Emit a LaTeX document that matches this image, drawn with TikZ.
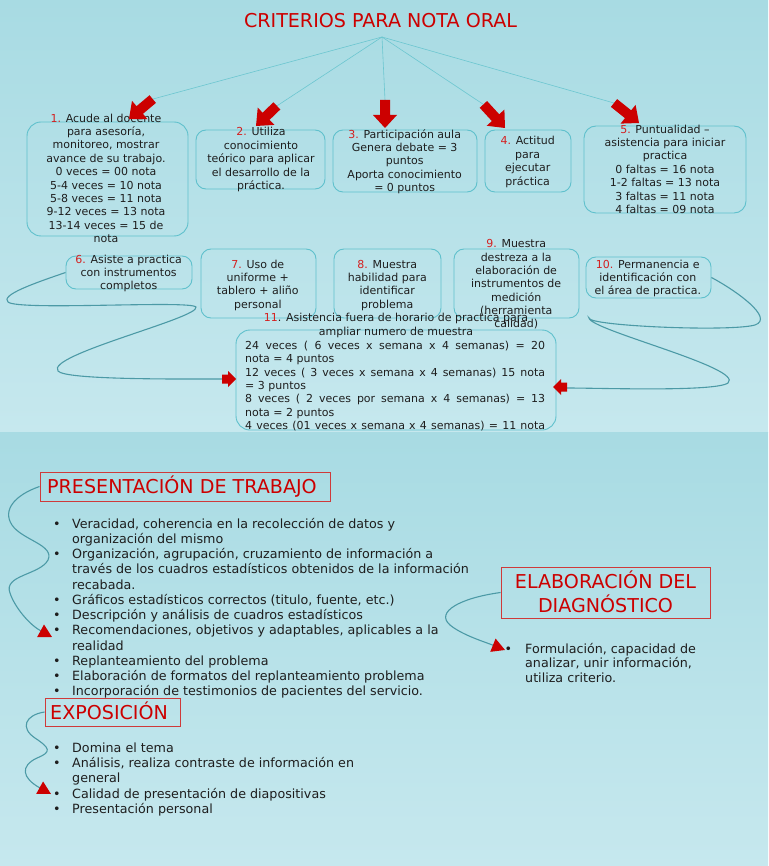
\documentclass[tikz,border=0pt]{standalone}
\usepackage{fontspec}
\setmainfont{DejaVu Sans}
\usetikzlibrary{arrows.meta}
\definecolor{bgtop}{HTML}{A8DBE3}
\definecolor{bgbot}{HTML}{C6E8EE}
\definecolor{boxc}{HTML}{5FC0CC}
\definecolor{curvec}{HTML}{4C9AA6}
\definecolor{hubc}{HTML}{6CC6D0}
\definecolor{arrowred}{HTML}{CC0000}
\definecolor{numred}{HTML}{D42020}
\definecolor{titred}{HTML}{CC0000}
\definecolor{textc}{HTML}{1E1E1E}
\definecolor{redbox}{HTML}{CF3A3A}
\newcommand{\ctext}[1]{\begin{tabular}[t]{@{}c@{}}#1\end{tabular}}
\newcommand{\ltext}[1]{\begin{tabular}[t]{@{}l@{}}#1\end{tabular}}
\newcommand{\nr}[1]{\textcolor{numred}{#1}}
\tikzset{
  pics/barrow/.style n args={4}{code={\fill[arrowred] (0,0) -- (-#2,#3) -- (-#2,#4) -- (-#1,#4) -- (-#1,-#4) -- (-#2,-#4) -- (-#2,-#3) -- cycle;}},
  cbox/.style={draw=boxc,line width=0.9pt,rounded corners=10pt,inner sep=0pt},
  txt/.style={font=\fontsize{11}{13.35}\selectfont,inner sep=0pt,text=textc,anchor=base},
  hubline/.style={draw=hubc,line width=0.6pt},
  curve/.style={draw=curvec,line width=1.1pt},
  rbox/.style={draw=redbox,line width=0.9pt,inner sep=0pt},
  htxt/.style={font=\fontsize{19.1}{21.7}\selectfont,text=titred,inner sep=0pt},
  blist/.style={font=\fontsize{12.7}{15.27}\selectfont,text=textc,inner sep=0pt,anchor=base west},
  rtip/.style={-{Triangle[color=arrowred,length=13pt,width=14pt]}}
}
\begin{document}
\begin{tikzpicture}[x=1pt,y=-1pt]
\useasboundingbox (0,0) rectangle (768,866);
\shade[top color=bgtop,bottom color=bgbot] (0,0) rectangle (768,432);
\shade[top color=bgtop,bottom color=bgbot] (0,432) rectangle (768,866);

% title and hub
\node[font=\fontsize{19.1}{22}\selectfont,text=titred,inner sep=0pt,anchor=base] (title) at (380.5,27.3) {CRITERIOS PARA NOTA ORAL};
\coordinate (hub) at (382,37);
\coordinate (a1t) at (152.7,99.1);
\coordinate (a2t) at (276.9,105.9);
\coordinate (a3t) at (385,100);
\coordinate (a4t) at (483.4,104.4);
\coordinate (a5t) at (614,103);
\draw[hubline] (hub) -- (a1t);
\draw[hubline] (hub) -- (a2t);
\draw[hubline] (hub) -- (a3t);
\draw[hubline] (hub) -- (a4t);
\draw[hubline] (hub) -- (a5t);

% boxes row 1
\node[cbox,rounded corners=14pt,minimum width=161pt,minimum height=114pt] (b1) at (107.5,179) {};
\node[cbox,minimum width=129pt,minimum height=59pt] (b2) at (260.5,159.5) {};
\node[cbox,minimum width=144pt,minimum height=62pt] (b3) at (405,161) {};
\node[cbox,minimum width=86pt,minimum height=62pt] (b4) at (528,161) {};
\node[cbox,rounded corners=12pt,minimum width=162pt,minimum height=87pt] (b5) at (665,169.5) {};
% boxes row 2
\node[cbox,minimum width=126pt,minimum height=33pt] (b6) at (129,272.5) {};
\node[cbox,minimum width=115pt,minimum height=69pt] (b7) at (258.5,283.5) {};
\node[cbox,minimum width=107pt,minimum height=69pt] (b8) at (387.5,283.5) {};
\node[cbox,minimum width=125pt,minimum height=69pt] (b9) at (516.5,283.5) {};
\node[cbox,minimum width=125pt,minimum height=41pt] (b10) at (648.5,277.5) {};
\node[cbox,rounded corners=14pt,minimum width=320pt,minimum height=100pt] (b11) at (396,380) {};

% texts
\node[txt] (t1) at (106,122.3) {\ctext{\nr{1.} Acude al docente\\para asesoría,\\monitoreo, mostrar\\avance de su trabajo.\\0 veces = 00 nota\\5-4 veces = 10 nota\\5-8 veces = 11 nota\\9-12 veces = 13 nota\\13-14 veces = 15 de\\nota}};
\node[txt] (t2) at (261,136) {\ctext{\nr{2.} Utiliza\\conocimiento\\teórico para aplicar\\el desarrollo de la\\práctica.}};
\node[txt] (t3) at (404.7,138.3) {\ctext{\nr{3.} Participación aula\\Genera debate = 3\\puntos\\Aporta conocimiento\\= 0 puntos}};
\node[txt] (t4) at (527.7,145) {\ctext{\nr{4.} Actitud\\para\\ejecutar\\práctica}};
\node[txt] (t5) at (665,133.3) {\ctext{\nr{5.} Puntualidad –\\asistencia para iniciar\\practica\\0 faltas = 16 nota\\1-2 faltas = 13 nota\\3 faltas = 11 nota\\4 faltas = 09 nota}};
\node[txt] (t6) at (128.7,263.3) {\ctext{\nr{6.} Asiste a practica\\con instrumentos\\completos}};
\node[txt] (t7) at (257.8,268.3) {\ctext{\nr{7.} Uso de\\uniforme +\\tablero + aliño\\personal}};
\node[txt] (t8) at (387.3,268.3) {\ctext{\nr{8.} Muestra\\habilidad para\\identificar\\problema}};
\node[txt] (t9) at (516.2,247.7) {\ctext{\nr{9.} Muestra\\destreza a la\\elaboración de\\instrumentos de\\medición\\(herramienta\\calidad)}};
\node[txt] (t10) at (647.8,268.3) {\ctext{\nr{10.} Permanencia e\\identificación con\\el área de practica.}};
\node[txt] (t11) at (396,321.7) {\ctext{\nr{11}. Asistencia fuera de horario de practica para\\ampliar numero de muestra}};
\node[txt,anchor=base west] (t11b) at (245,349.3) {\ltext{\makebox[300pt][s]{24 veces ( 6 veces x semana x 4 semanas) = 20}\\nota = 4 puntos\\\makebox[300pt][s]{12 veces ( 3 veces x semana x 4 semanas) 15 nota}\\= 3 puntos\\\makebox[300pt][s]{8 veces ( 2 veces por semana x 4 semanas) = 13}\\nota = 2 puntos\\\makebox[300pt][s]{4 veces (01 veces x semana x 4 semanas) = 11 nota}}};

% red block arrows
\pic[rotate=-140] at (129,119) {barrow={31}{14}{12}{5}};
\pic[rotate=-136] at (256,126) {barrow={29}{14}{12}{5}};
\pic[rotate=-90] at (385,128) {barrow={28}{13}{12}{5}};
\pic[rotate=-47.5] at (505,128) {barrow={32}{14}{12}{5}};
\pic[rotate=-38.7] at (639,123) {barrow={32}{14}{12}{5}};

% curved connectors to box 11
\coordinate (c11l) at (222,379);
\coordinate (c11r) at (567,388);
\draw[curve] (b6.west) .. controls (35,283) and (0,295) .. (8,302) .. controls (18,311) and (190,300) .. (196,307) .. controls (200,318) and (45,355) .. (58,371) .. controls (65,380) and (180,379) .. (c11l);
\draw[curve] (b10.east) .. controls (735,290) and (775,318) .. (755,325) .. controls (730,332) and (588,326) .. (589,318) .. controls (590,330) and (745,368) .. (728,383) .. controls (715,392) and (600,388) .. (c11r);
\pic at (236,379) {barrow={14}{8}{8}{4.5}};
\pic[rotate=180] at (553,387) {barrow={14}{8}{8}{4.5}};

% bottom panel headings
\node[rbox,minimum width=290pt,minimum height=29pt] (pres) at (185,486.5) {};
\node[htxt,anchor=base west] (prest) at (47,493.3) {PRESENTACIÓN DE TRABAJO};
\node[rbox,minimum width=209pt,minimum height=51pt] (elab) at (605.5,592.5) {};
\node[htxt,anchor=base] (elabt) at (605.5,588.3) {\ctext{ELABORACIÓN DEL\\DIAGNÓSTICO}};
\node[rbox,minimum width=135pt,minimum height=28pt] (expo) at (112.5,712) {};
\node[htxt,anchor=base west] (expot) at (50,719.3) {EXPOSICIÓN};

% lists
\node[blist] (l1) at (53,528) {\begin{tabular}[t]{@{}p{19pt}@{}l@{}}
\textbullet & Veracidad, coherencia en la recolección de datos y\\
 & organización del mismo\\
\textbullet & Organización, agrupación, cruzamiento de información a\\
 & través de los cuadros estadísticos obtenidos de la información\\
 & recabada.\\
\textbullet & Gráficos estadísticos correctos (titulo, fuente, etc.)\\
\textbullet & Descripción y análisis de cuadros estadísticos\\
\textbullet & Recomendaciones, objetivos y adaptables, aplicables a la\\
 & realidad\\
\textbullet & Replanteamiento del problema\\
\textbullet & Elaboración de formatos del replanteamiento problema\\
\textbullet & Incorporación de testimonios de pacientes del servicio.
\end{tabular}};
\node[blist,font=\fontsize{12.7}{14.5}\selectfont] (l2) at (504.3,653) {\begin{tabular}[t]{@{}p{20.7pt}@{}l@{}}
\textbullet & Formulación, capacidad de\\
 & analizar, unir información,\\
 & utiliza criterio.
\end{tabular}};
\node[blist,font=\fontsize{12.7}{15.2}\selectfont] (l3) at (53,752.5) {\begin{tabular}[t]{@{}p{19pt}@{}l@{}}
\textbullet & Domina el tema\\
\textbullet & Análisis, realiza contraste de información en\\
 & general\\
\textbullet & Calidad de presentación de diapositivas\\
\textbullet & Presentación personal
\end{tabular}};

% bottom curved connectors
\coordinate (c1) at (52,637);
\coordinate (c2) at (505,650);
\coordinate (c3) at (51,794);
\draw[curve,rtip] (pres.west) .. controls (15,495) and (2,510) .. (12,525) .. controls (22,540) and (55,545) .. (48,560) .. controls (40,575) and (3,575) .. (10,593) .. controls (15,608) and (30,625) .. (c1);
\draw[curve,rtip] (elab.west) .. controls (460,598) and (435,612) .. (450,625) .. controls (462,635) and (485,642) .. (c2);
\draw[curve,rtip] (expo.west) .. controls (25,715) and (20,728) .. (35,738) .. controls (50,748) and (52,752) .. (37,758) .. controls (20,766) and (22,778) .. (c3);
\end{tikzpicture}
\end{document}
